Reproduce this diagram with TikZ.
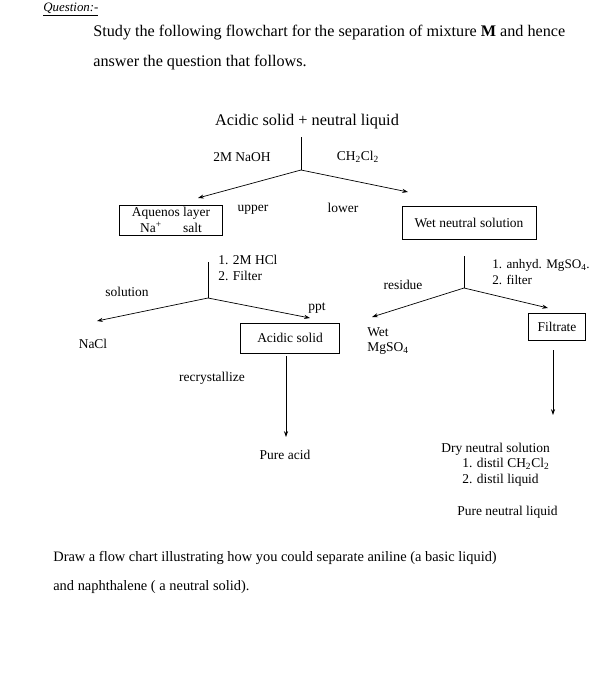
\documentclass[tikz,border=0pt]{standalone}
\usepackage{fontspec}
\setmainfont{Liberation Serif}
\usetikzlibrary{arrows.meta}

\begin{document}
\begin{tikzpicture}[
    x=0.03cm, y=-0.03cm,
    >={Stealth[length=5pt,width=3.5pt]},
    line width=0.6pt,
    body/.style={anchor=west, font=\fontsize{13.8}{16}\selectfont, inner sep=0pt},
    lab/.style={font=\fontsize{11.5}{13.5}\selectfont, inner sep=0pt, align=left},
    box/.style={draw, line width=0.7pt, align=center, font=\fontsize{11.5}{13}\selectfont, minimum width=#1, minimum height=0.9cm, inner sep=1pt},
    box/.default=3cm,
    flow/.style={->}
  ]
  \useasboundingbox (0,0) rectangle (594,693);

  \node[body, font=\fontsize{11}{13}\selectfont] (qhead) at (43,9) {\underline{\textit{Question:-}}};
  \node[body] (intro1) at (93,33) {Study the following flowchart for the separation of mixture \textbf{M} and hence};
  \node[body] (intro2) at (93,63) {answer the question that follows.};

  \node[lab, font=\fontsize{13.9}{16}\selectfont] (mix) at (307,122) {Acidic solid + neutral liquid};
  \node[lab] (naoh) at (242,157) {2M NaOH};
  \node[lab] (dcm) at (358,157) {CH\textsubscript{2}Cl\textsubscript{2}};

  \node[box=3.09cm] (aq) at (171,220) {Aquenos layer\\Na\textsuperscript{+}\hspace{1.6em}salt};
  \node[lab] (upper) at (253,210) {upper};
  \node[lab] (lower) at (343,208) {lower};
  \node[box=4.02cm, minimum height=0.99cm] (wet) at (469,223) {Wet neutral solution};

  \node[lab, anchor=west] (hcl) at (218,268) {1. 2M HCl\\2. Filter};
  \node[lab] (soln) at (127,292) {solution};
  \node[lab] (ppt) at (317,308) {ppt};
  \node[lab] (nacl) at (93,344) {NaCl};
  \node[box=2.97cm] (acid) at (290,338) {Acidic solid};
  \node[lab] (recr) at (212,378) {recrystallize};
  \node[lab] (pureacid) at (285,455) {Pure acid};

  \node[lab, anchor=west, font=\fontsize{11.2}{13.2}\selectfont] (dry) at (492,272) {1. anhyd. MgSO\textsubscript{4}.\\2. filter};
  \node[lab] (resid) at (403,285) {residue};
  \node[lab, anchor=west] (wetmg) at (367,341) {Wet\\MgSO\textsubscript{4}};
  \node[box=1.71cm, minimum height=0.81cm] (filt) at (557,327) {Filtrate};
  \node[lab, anchor=west] (drysoln) at (441,449) {Dry neutral solution};
  \node[lab, anchor=west] (distil) at (462,472) {1. distil CH\textsubscript{2}Cl\textsubscript{2}\\2. distil liquid};
  \node[lab, anchor=west] (pureliq) at (457,512) {Pure neutral liquid};

  \node[body, font=\fontsize{12.3}{14.5}\selectfont] (task1) at (53,558) {Draw a flow chart illustrating how you could separate aniline (a basic liquid)};
  \node[body, font=\fontsize{12.3}{14.5}\selectfont] (task2) at (53,587) {and naphthalene ( a neutral solid).};

  \coordinate (mixfoot) at (301,137);
  \coordinate (split1) at (301,170);
  \coordinate (aqin) at (198,198);
  \coordinate (wetin) at (408,192);
  \coordinate (aqfoot) at (208,262);
  \coordinate (split2) at (208,298);
  \coordinate (naclin) at (97,321);
  \coordinate (acidin) at (310,318);
  \coordinate (wetfoot) at (464,256);
  \coordinate (split3) at (464,288);
  \coordinate (filtin) at (548,308);
  \coordinate (mgin) at (372,317);
  \coordinate (acidfoot) at (286,356);
  \coordinate (pureacidin) at (286,437);
  \coordinate (filtfoot) at (553,350);
  \coordinate (dryin) at (553,415);

  \draw (mixfoot) -- (split1);
  \draw[flow] (split1) -- (aqin);
  \draw[flow] (split1) -- (wetin);

  \draw (aqfoot) -- (split2);
  \draw[flow] (split2) -- (naclin);
  \draw[flow] (split2) -- (acidin);

  \draw (wetfoot) -- (split3);
  \draw[flow] (split3) -- (filtin);
  \draw[flow] (split3) -- (mgin);

  \draw[flow] (acidfoot) -- (pureacidin);
  \draw[flow] (filtfoot) -- (dryin);
\end{tikzpicture}
\end{document}
